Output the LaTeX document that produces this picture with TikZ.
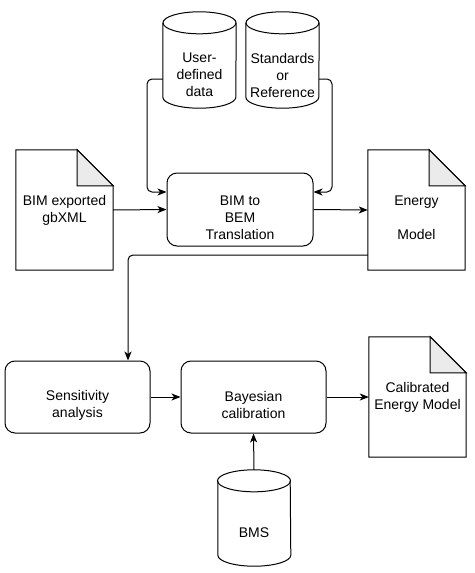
\documentclass[tikz,border=0pt]{standalone}
\usepackage{fontspec}
\setmainfont{Liberation Sans}
\usetikzlibrary{arrows.meta,calc}
\definecolor{foldgray}{RGB}{235,235,235}

\tikzset{
  base/.style={font=\fontsize{14}{17}\selectfont, align=center, inner sep=0pt},
  procbox/.style={draw, line width=1pt, rounded corners=10pt, minimum width=146pt, minimum height=73pt},
  docbox/.style={minimum width=97pt, minimum height=120pt, inner sep=0pt},
  dbbox/.style={minimum width=73pt, minimum height=96pt, inner sep=0pt},
  link/.style={line width=1pt, rounded corners=5pt, -{Stealth[length=9pt,width=7pt,inset=2.5pt]}},
}

% folded page outline around a docbox node
\newcommand{\docshape}[1]{%
  \draw[line width=1pt] (#1.south west) -- (#1.north west) -- ([xshift=-36pt]#1.north east)
    -- ([yshift=-36pt]#1.north east) -- (#1.south east) -- cycle;
  \filldraw[line width=1pt, fill=foldgray] ([xshift=-36pt]#1.north east)
    -- ([xshift=-36pt,yshift=-36pt]#1.north east) -- ([yshift=-36pt]#1.north east) -- cycle;
}
% database cylinder outline around a dbbox node
\newcommand{\dbshape}[1]{%
  \draw[line width=1pt] ([yshift=-11pt]#1.north west) -- ([yshift=11pt]#1.south west)
    arc[start angle=180, end angle=360, x radius=36.5pt, y radius=11pt]
    -- ([yshift=-11pt]#1.north east);
  \draw[line width=1pt] ([yshift=-11pt]#1.north) ellipse[x radius=36.5pt, y radius=11pt];
}

\begin{document}
\begin{tikzpicture}[x=1pt,y=1pt]
      \useasboundingbox (0,0) rectangle (474,-573);

      % top row
      \node[dbbox] (userdata) at (199.5,-60) {};
      \dbshape{userdata}
      \node[base] at ([yshift=-15pt]userdata.center) {User-\\defined\\data};

      \node[dbbox] (standards) at (282.5,-60) {};
      \dbshape{standards}
      \node[base] at ([yshift=-15pt]standards.center) {Standards\\or\\Reference};

      \node[docbox] (gbxml) at (64.5,-210) {};
      \docshape{gbxml}
      \node[base] at (gbxml.center) {BIM exported\\gbXML};

      \node[procbox] (translation) at (240,-209.5) {};
      \node[base] at ([yshift=-8pt]translation.center) {BIM to\\BEM\\Translation};

      \node[docbox] (energy) at (416.5,-210) {};
      \docshape{energy}
      \node[base] at ([yshift=-8pt]energy.center) {Energy\\\\Model};

      % bottom row
      \node[procbox, minimum width=145pt, minimum height=72pt] (sensitivity) at (77.5,-397) {};
      \node[base] at ([yshift=-8pt]sensitivity.center) {Sensitivity\\analysis};

      \node[procbox, minimum width=145pt, minimum height=72pt] (bayes) at (253.5,-397) {};
      \node[base] at ([yshift=-8pt]bayes.center) {Bayesian\\calibration};

      \node[docbox] (calibrated) at (417.5,-397) {};
      \docshape{calibrated}
      \node[base] at (calibrated.center) {Calibrated\\Energy Model};

      \node[dbbox, minimum width=72pt] (bms) at (254,-518) {};
      \dbshape{bms}
      \node[base] at ([yshift=-15pt]bms.center) {BMS};

      % connectors
      \coordinate (ud-out) at ([yshift=-19pt]userdata.west);
      \coordinate (st-out) at ([yshift=-19pt]standards.east);
      \draw[link] (ud-out) -| (147,-192) -- (translation.west |- 0,-192);
      \draw[link] (st-out) -| (332,-192) -- (translation.east |- 0,-192);

      \draw[link] (gbxml.east) -- (translation.west);
      \draw[link] (translation.east) -- (energy.west);

      \coordinate (en-out) at ([yshift=-45pt]energy.west);
      \draw[link] (en-out) -| (sensitivity.north -| 128,0);

      \draw[link] (sensitivity.east) -- (bayes.west);
      \draw[link] (bayes.east) -- (calibrated.west);
      \draw[link] (bms.north) -- (bayes.south);
\end{tikzpicture}
\end{document}
